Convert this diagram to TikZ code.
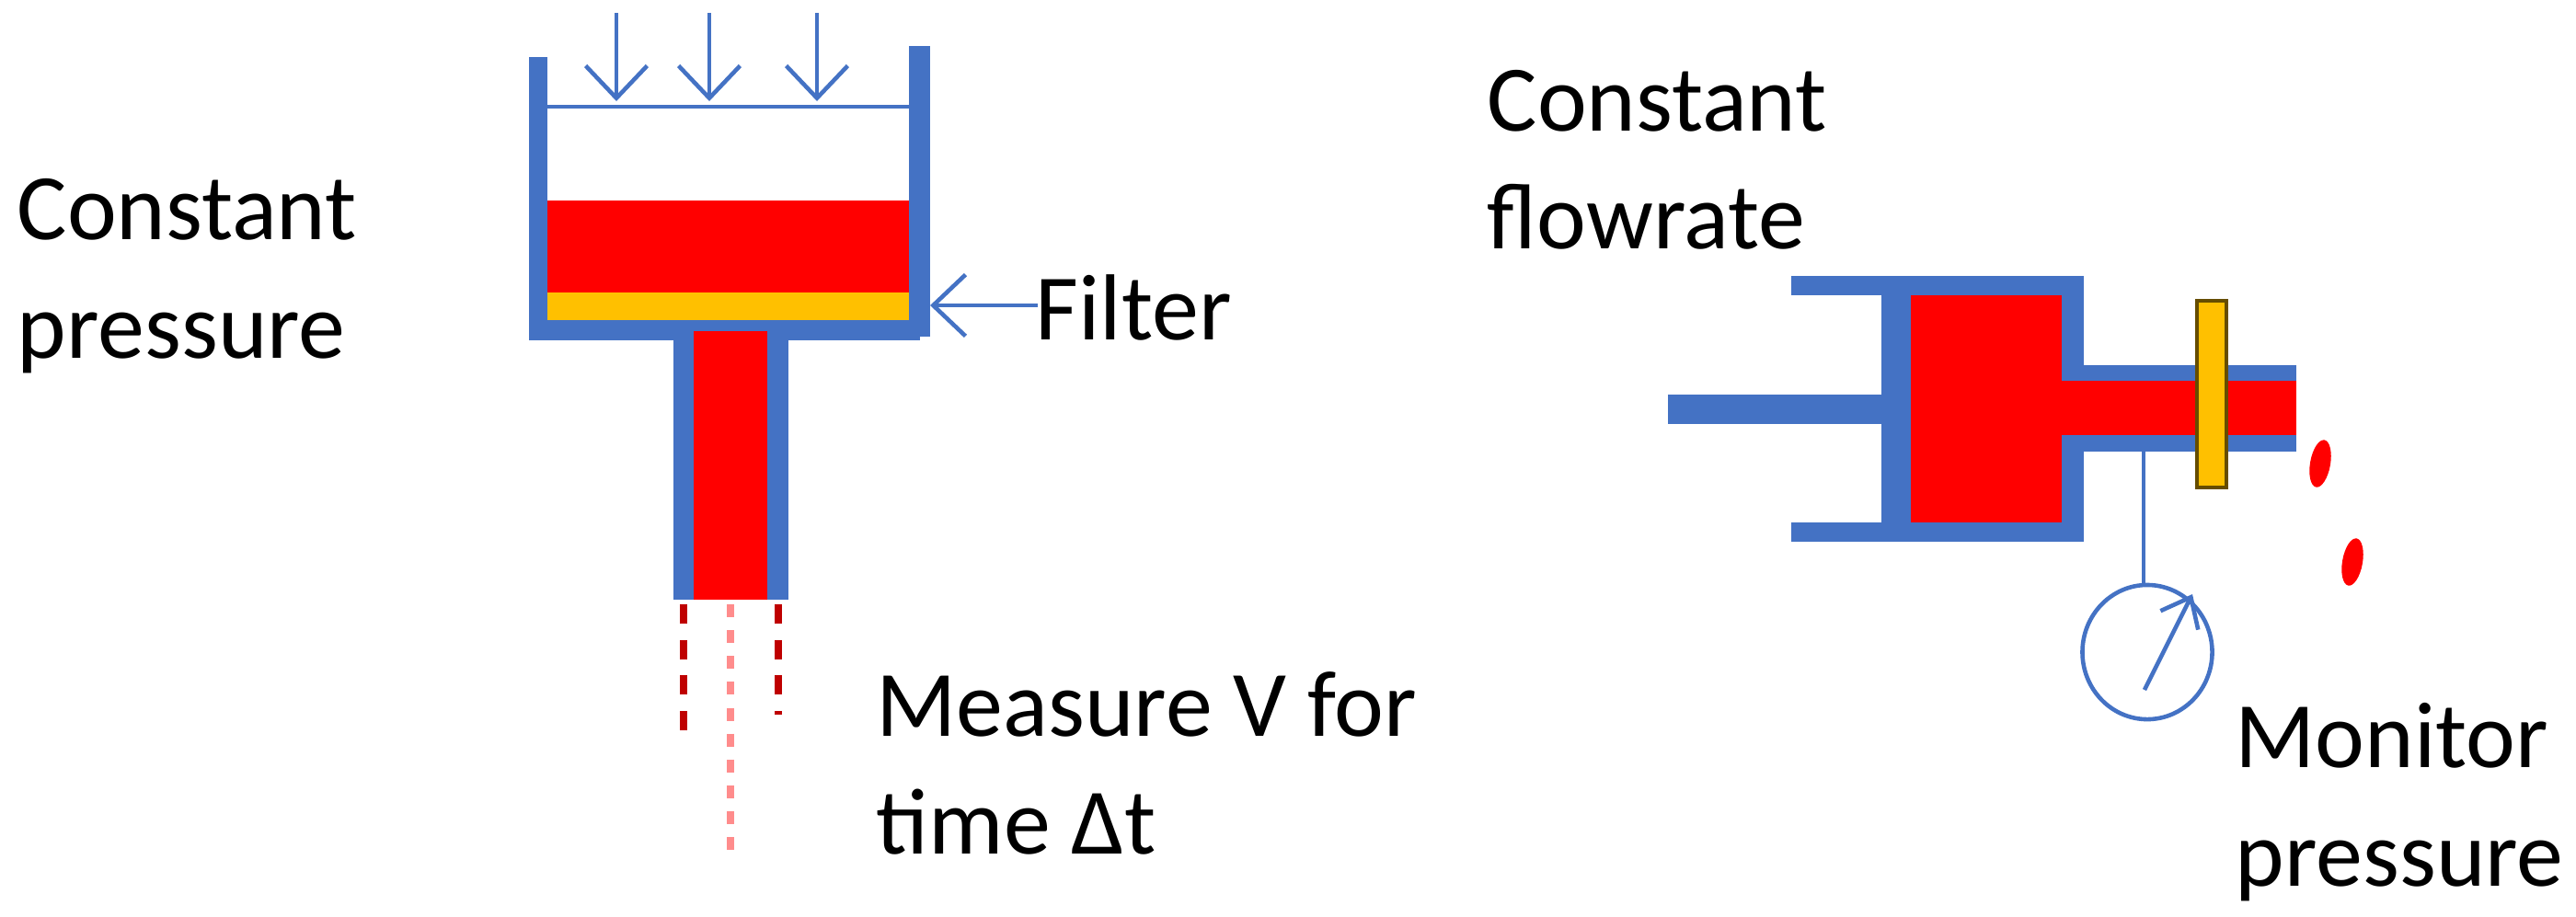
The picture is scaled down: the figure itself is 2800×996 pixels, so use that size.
\documentclass[tikz,border=0pt]{standalone}
\usepackage{fontspec}
\setmainfont{Carlito}
\usetikzlibrary{arrows.meta,shapes.geometric}
\definecolor{bl}{HTML}{4472C4}
\definecolor{rd}{HTML}{FF0000}
\definecolor{yl}{HTML}{FFC000}
\begin{document}
\begin{tikzpicture}[x=0.01cm,y=-0.01cm,
  lbl/.style={font=\fontsize{29pt}{36.5pt}\selectfont,align=left,anchor=west,inner sep=0pt},
  thinb/.style={bl,line width=1.3pt},
  oarrow/.style={thinb,-{Straight Barb[length=10pt,width=19pt]}}]
\useasboundingbox (0,0) rectangle (2800,996);
% left apparatus
\fill[bl] (575,62) rectangle (595,370);
\fill[bl] (988,50) rectangle (1011,366);
\fill[bl] (575,348) rectangle (1000,370);
\fill[bl] (732,370) rectangle (857,652);
\fill[rd] (754,360) rectangle (834,652);
\fill[rd] (595,218) rectangle (988,318);
\fill[yl] (595,318) rectangle (988,348);
\coordinate (lt) at (595,116); \coordinate (rt) at (988,116);
\draw[thinb] (lt) -- (rt);
\foreach \x in {670,771,888}{\coordinate (a\x) at (\x,14); \coordinate (b\x) at (\x,110); \draw[oarrow] (a\x) -- (b\x);}
\draw[rd!75!black,line width=2.5pt,dash pattern=on 6pt off 5pt] (743,657) -- (743,804);
\draw[rd!45,line width=2pt,dash pattern=on 4pt off 4pt] (794,657) -- (794,938);
\draw[rd!75!black,line width=2.5pt,dash pattern=on 6pt off 5pt] (846,657) -- (846,777);
\node[lbl] (filter) at (1125,334) {Filter};
\coordinate (fp) at (1011,332);
\draw[oarrow] (1128,332) -- (fp);
\node[lbl] (cp) at (18,300) {Constant\\pressure};
\node[lbl] (mv) at (952,830) {Measure V for\\time Δt};
% right apparatus
\fill[bl] (1947,300) rectangle (2254,321);
\fill[bl] (1947,568) rectangle (2265,589);
\fill[bl] (2241,300) rectangle (2265,589);
\fill[bl] (2241,397) rectangle (2496,491);
\fill[rd] (2077,321) rectangle (2241,568);
\fill[rd] (2235,414) rectangle (2496,473);
\fill[bl] (1813,429) rectangle (2047,461);
\fill[bl] (2045,321) rectangle (2077,568);
\draw[fill=yl,draw=black!60!yl,line width=1pt] (2388,327) rectangle (2420,530);
\node[draw=bl,line width=1.3pt,ellipse,minimum width=1.41cm,minimum height=1.46cm,inner sep=0pt] (g) at (2334,709) {};
\coordinate (gt) at (2330,491);
\draw[thinb] (gt) -- (g.north -| gt);
\coordinate (n1) at (2331,750); \coordinate (n2) at (2383,646);
\draw[thinb,-{Straight Barb[length=8pt,width=13pt]}] (n1) -- (n2);
\fill[rd,rotate around={-10:(2522,504)}] (2522,504) ellipse (11 and 26);
\fill[rd,rotate around={-10:(2557,611)}] (2557,611) ellipse (11 and 26);
\node[lbl] (cf) at (1616,174) {Constant\\flowrate};
\node[lbl] (mp) at (2429,872) {Monitor\\pressure};
\end{tikzpicture}
\end{document}
